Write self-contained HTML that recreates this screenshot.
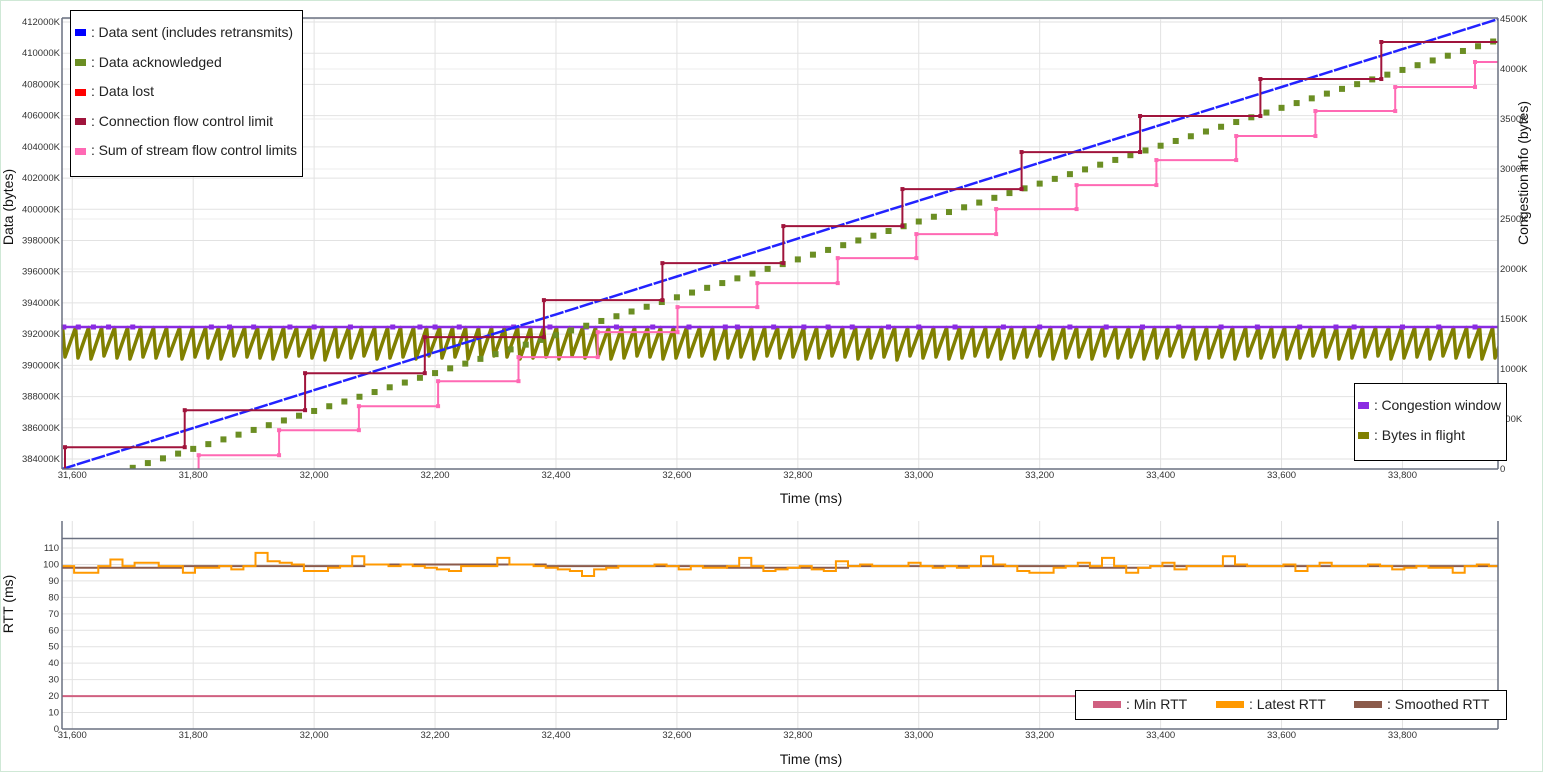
<!DOCTYPE html>
<html><head><meta charset="utf-8">
<style>
html,body{margin:0;padding:0;background:#fff;}
#wrap{width:1541px;height:770px;border:1px solid #cfe8d6;position:relative;overflow:hidden;}
svg text{font-family:"Liberation Sans",sans-serif;}
</style></head>
<body>
<div id="wrap">
<svg id="svg" width="1543" height="772" xmlns="http://www.w3.org/2000/svg" style="position:absolute;left:-1px;top:-1px">
<g id="grid"></g>
<g id="series"></g>
<g id="axes"></g>
<text x="811" y="503" font-size="14" text-anchor="middle" fill="#111">Time (ms)</text>
<text x="811" y="764" font-size="14" text-anchor="middle" fill="#111">Time (ms)</text>
<text transform="translate(13,207) rotate(-90)" font-size="14" text-anchor="middle" fill="#111">Data (bytes)</text>
<text transform="translate(1528,173) rotate(-90)" font-size="14" text-anchor="middle" fill="#111">Congestion info (bytes)</text>
<text transform="translate(13,604) rotate(-90)" font-size="14" text-anchor="middle" fill="#111">RTT (ms)</text>

<g>
<rect x="70.5" y="10.5" width="232" height="166" fill="#fff" stroke="#000"/>
<g><rect x="75" y="29" width="11" height="7" fill="#0000ff"/><text x="91" y="37" font-size="14" fill="#222" textLength="202">: Data sent (includes retransmits)</text></g>
<g><rect x="75" y="59" width="11" height="7" fill="#6b8e23"/><text x="91" y="67" font-size="14" fill="#222">: Data acknowledged</text></g>
<g><rect x="75" y="89" width="11" height="7" fill="#ff0000"/><text x="91" y="96" font-size="14" fill="#222">: Data lost</text></g>
<g><rect x="75" y="118" width="11" height="7" fill="#a0143c"/><text x="91" y="126" font-size="14" fill="#222">: Connection flow control limit</text></g>
<g><rect x="75" y="148" width="11" height="7" fill="#ff69b4"/><text x="91" y="155" font-size="14" fill="#222" textLength="206">: Sum of stream flow control limits</text></g>
</g>
<g>
<rect x="1354.5" y="383.5" width="152" height="77" fill="#fff" stroke="#000"/>
<g><rect x="1358" y="402" width="11" height="7" fill="#8a2be2"/><text x="1374" y="410" font-size="14" fill="#222" textLength="127">: Congestion window</text></g>
<g><rect x="1358" y="432" width="11" height="7" fill="#808000"/><text x="1374" y="440" font-size="14" fill="#222">: Bytes in flight</text></g>
</g>
<g>
<rect x="1075.5" y="690.5" width="431" height="29" fill="#fff" stroke="#000"/>
<g><rect x="1093" y="701" width="28" height="7" fill="#d06080"/><text x="1126" y="709" font-size="14" fill="#222">: Min RTT</text></g>
<g><rect x="1216" y="701" width="28" height="7" fill="#ff9900"/><text x="1249" y="709" font-size="14" fill="#222">: Latest RTT</text></g>
<g><rect x="1354" y="701" width="28" height="7" fill="#8b5a4a"/><text x="1387" y="709" font-size="14" fill="#222">: Smoothed RTT</text></g>
</g>
</svg>
</div>
<script>
// ---- data ----
const xTicks=[31600,31800,32000,32200,32400,32600,32800,33000,33200,33400,33600,33800];
const xTickLabels=["31,600","31,800","32,000","32,200","32,400","32,600","32,800","33,000","33,200","33,400","33,600","33,800"];
const leftTicks=[384000,386000,388000,390000,392000,394000,396000,398000,400000,402000,404000,406000,408000,410000,412000];
const rightTicks=[0,500,1000,1500,2000,2500,3000,3500,4000,4500];
const rttTicks=[0,10,20,30,40,50,60,70,80,90,100,110];
const sentTimes=[31583,31600,31700,31800,31900,32000,32100,32200,32300,32400,32500,32600,32700,32800,32900,33000,33100,33200,33300,33400,33500,33600,33700,33800,33900,34000];
const sentValues=[383350,383556,384770,385984,387198,388412,389626,390840,392054,393268,394482,395696,396910,398124,399338,400552,401766,402980,404194,405408,406622,407836,409050,410264,411478,412692];
const ackStart=31700, ackStep=25;
const ackValues=[383435,383739,384042,384346,384649,384953,385256,385560,385863,386167,386470,386774,387077,387381,387684,387988,388291,388595,388898,389202,389505,389809,390112,390416,390719,391023,391326,391630,391933,392237,392540,392844,393147,393451,393754,394058,394361,394665,394968,395272,395575,395879,396182,396486,396789,397093,397396,397700,398003,398307,398610,398914,399217,399521,399824,400128,400431,400735,401038,401342,401645,401949,402252,402556,402859,403163,403466,403770,404073,404377,404680,404984,405287,405591,405894,406198,406501,406805,407108,407412,407715,408019,408322,408626,408929,409233,409536,409840,410143,410447,410750];
const connTimes=[31588,31786,31985,32183,32380,32576,32776,32973,33170,33366,33565,33765];
const connValues=[384757,387128,389500,391808,394180,396550,398923,401295,403667,405975,408346,410718];
const streamTimes=[31809,31942,32074,32205,32338,32469,32601,32733,32866,32996,33128,33261,33393,33525,33656,33788,33920];
const streamValues=[384245,385847,387386,388988,390527,392129,393732,395270,396872,398411,400013,401552,403154,404693,406295,407833,409436];
const cwndTimes=[31586,31610,31635,31660,31700,31830,31860,31900,31960,32000,32060,32130,32175,32200,32240,32330,32390,32450,32500,32560,32620,32680,32700,32760,32810,32850,32890,32950,33000,33060,33140,33200,33250,33310,33370,33430,33500,33560,33630,33690,33720,33800,33860,33920];
const cwndValues=[1420,1420,1420,1420,1420,1420,1420,1420,1420,1420,1420,1420,1420,1420,1420,1420,1420,1420,1420,1420,1420,1420,1420,1420,1420,1420,1420,1420,1420,1420,1420,1420,1420,1420,1420,1420,1420,1420,1420,1420,1420,1420,1420,1420];
const bifStart=31584, bifStep=21.5;
const bifTroughValues=[1120,1110,1100,1130,1110,1100,1120,1110,1130,1100,1120,1110,1100,1130,1120,1110,1100,1120,1130,1110,1090,1120,1110,1130,1100,1110,1120,1100,1130,1110,1120,1100,1110,1130,1120,1100,1110,1120,1100,1130,1110,1120,1100,1110,1130,1120,1100,1110,1120,1130,1100,1110,1120,1100,1130,1110,1120,1100,1110,1130,1120,1100,1110,1120,1090,1130,1110,1120,1100,1110,1130,1120,1100,1110,1120,1130,1100,1110,1120,1100,1130,1110,1120,1100,1110,1130,1120,1100,1110,1120,1100,1130,1110,1120,1100,1110,1130,1120,1100,1110,1120,1130,1100,1110,1120,1100,1130,1110,1120,1100,1110];
const bifPeakValue=1415;
const rttStart=31583, rttStep=20;
const latestRtt=[99,95,95,99,103,99,101,101,99,99,95,98,98,99,97,99,107,102,101,100,96,96,98,99,105,100,100,99,100,99,98,97,96,99,99,99,104,100,100,99,98,97,96,93,97,98,99,99,99,100,99,97,99,98,98,99,104,99,96,97,98,99,97,96,102,99,100,99,99,99,101,99,98,99,98,99,105,100,99,96,95,95,98,99,101,99,104,99,95,98,99,101,97,99,99,99,105,100,99,99,99,100,96,99,101,99,99,99,100,99,97,98,99,98,98,95,99,100,99,98];
const smoothStart=31583, smoothStep=100;
const smoothRtt=[98,98,99,99,99,100,100,100,99,99,99,98,98,99,99,99,99,98,99,99,99,99,99,99,98];
const minRttValue=20;

// ---- scales ----
const X0=62,X1=1498,T0=31583,T1=33958;
const sx=t=>X0+(t-T0)*(X1-X0)/(T1-T0);
const yTopB=469,yTopT=18;
const syL=v=>459-(v-384000)*(437/28000);
const syR=v=>469-v*(450/4500);
const RB=729;
const syT=v=>RB-v*(181/110);
const NS="http://www.w3.org/2000/svg";
function mk(parent,tag,attrs){const e=document.createElementNS(NS,tag);for(const k in attrs)e.setAttribute(k,attrs[k]);document.getElementById(parent).appendChild(e);return e;}
function pts(ts,vs,f){return ts.map((t,i)=>sx(t).toFixed(1)+","+f(vs[i]).toFixed(1)).join(" ");}
function clip(id,y0,y1){const d=mk('series','clipPath',{id:id});const r=document.createElementNS(NS,'rect');r.setAttribute('x',X0);r.setAttribute('y',y0);r.setAttribute('width',X1-X0);r.setAttribute('height',y1-y0);d.appendChild(r);}
clip('cTop',yTopT,yTopB);clip('cBot',521,RB);

// grid
xTicks.forEach((t,i)=>{
 let l=mk('grid','line',{x1:sx(t),x2:sx(t),y1:yTopT,y2:yTopB,stroke:'#e2e2e2','stroke-width':1});
 
 l=mk('grid','line',{x1:sx(t),x2:sx(t),y1:521,y2:RB,stroke:'#e2e2e2','stroke-width':1});
 
});
leftTicks.forEach(v=>{const l=mk('grid','line',{x1:X0,x2:X1,y1:syL(v),y2:syL(v),stroke:'#e2e2e2'});
 });
rightTicks.forEach(v=>{const l=mk('grid','line',{x1:X0,x2:X1,y1:syR(v),y2:syR(v),stroke:'#ececec'});
 });
rttTicks.forEach(v=>{const l=mk('grid','line',{x1:X0,x2:X1,y1:syT(v),y2:syT(v),stroke:'#e2e2e2'});
 });

// bytes in flight sawtooth: sharp drop then ramp up
let bp=[];
bifTroughValues.forEach((v,i)=>{const t=bifStart+i*bifStep;
 bp.push(sx(t).toFixed(1)+","+syR(bifPeakValue).toFixed(1));
 bp.push(sx(t+4).toFixed(1)+","+syR(v).toFixed(1));});
bp.push(sx(bifStart+bifTroughValues.length*bifStep).toFixed(1)+","+syR(bifPeakValue).toFixed(1));
let e=mk('series','polyline',{points:bp.join(" "),fill:'none',stroke:'#808000','stroke-width':3.5,'stroke-linejoin':'round','clip-path':'url(#cTop)'});


// cwnd
e=mk('series','polyline',{points:pts([T0].concat(cwndTimes,[T1]),[1420].concat(cwndValues,[1420]),syR),fill:'none',stroke:'#8a2be2','stroke-width':2.5});


cwndTimes.forEach((t,i)=>{const c=mk('series','rect',{x:sx(t)-2.5,y:syR(cwndValues[i])-2.5,width:5,height:5,fill:'#8a2be2'});
 });

// stream limits step
function stepPts(ts,vs,f,base,endT){let p=[sx(ts[0]).toFixed(1)+","+base];ts.forEach((t,i)=>{if(i>0)p.push(sx(t).toFixed(1)+","+f(vs[i-1]).toFixed(1));p.push(sx(t).toFixed(1)+","+f(vs[i]).toFixed(1));});p.push(sx(endT).toFixed(1)+","+f(vs[vs.length-1]).toFixed(1));return p.join(" ");}
e=mk('series','polyline',{points:stepPts(streamTimes,streamValues,syL,yTopB,T1),fill:'none',stroke:'#ff69b4','stroke-width':2,'clip-path':'url(#cTop)'});


streamTimes.forEach((t,i)=>{[i>0?streamValues[i-1]:null,streamValues[i]].forEach(v=>{if(v===null)return;
 const c=mk('series','rect',{x:sx(t)-2,y:syL(v)-2,width:4,height:4,fill:'#ff69b4'});
 });});
// ack
ackValues.forEach((v,i)=>{const c=mk('series','rect',{x:sx(ackStart+i*ackStep)-3,y:syL(v)-3,width:6,height:6,fill:'#6b8e23','clip-path':'url(#cTop)'});
 });
// sent
e=mk('series','polyline',{points:pts(sentTimes,sentValues,syL),fill:'none',stroke:'#2222ff','stroke-width':2.5,'stroke-dasharray':'14 1.5','clip-path':'url(#cTop)'});


// connection limit
e=mk('series','polyline',{points:stepPts(connTimes,connValues,syL,yTopB,T1),fill:'none',stroke:'#a0143c','stroke-width':2,'clip-path':'url(#cTop)'});


connTimes.forEach((t,i)=>{[i>0?connValues[i-1]:null,connValues[i]].forEach(v=>{if(v===null)return;
 const c=mk('series','rect',{x:sx(t)-2,y:syL(v)-2,width:4,height:4,fill:'#a0143c'});
 });});

// RTT
e=mk('series','line',{x1:X0,x2:X1,y1:syT(minRttValue),y2:syT(minRttValue),stroke:'#d06080','stroke-width':2});


let st=smoothRtt.map((v,i)=>smoothStart+i*smoothStep);
e=mk('series','polyline',{points:stepPts(st,smoothRtt,syT,syT(smoothRtt[0]),T1),fill:'none',stroke:'#8b5a4a','stroke-width':2,'clip-path':'url(#cBot)'});


let lt=latestRtt.map((v,i)=>rttStart+i*rttStep);
e=mk('series','polyline',{points:stepPts(lt,latestRtt,syT,syT(latestRtt[0]),T1),fill:'none',stroke:'#ff9900','stroke-width':2,'clip-path':'url(#cBot)'});



// axes
[['line',{x1:X0,x2:X0,y1:yTopT,y2:yTopB}],['line',{x1:X0,x2:X1,y1:yTopB,y2:yTopB}],['line',{x1:X1,x2:X1,y1:yTopT,y2:yTopB}],['line',{x1:X0,x2:X1,y1:yTopT,y2:yTopT}],
 ['line',{x1:X0,x2:X0,y1:521,y2:RB}],['line',{x1:X0,x2:X1,y1:RB,y2:RB}],['line',{x1:X1,x2:X1,y1:521,y2:RB}],['line',{x1:X0,x2:X1,y1:538.5,y2:538.5}]].forEach(a=>{
 const l=mk('axes',a[0],Object.assign({stroke:'#6a7080','stroke-width':1.5},a[1]));
 });
function txt(x,y,s,anchor,name){const t=mk('axes','text',{x:x,y:y,'font-size':9.5,'text-anchor':anchor,fill:'#333'});t.textContent=s;
 }
xTicks.forEach((t,i)=>{txt(sx(t),478,xTickLabels[i],'middle','x-tick-label-top');txt(sx(t),738,xTickLabels[i],'middle','x-tick-label-bottom');});
leftTicks.forEach(v=>txt(60,syL(v)+3,v+"K",'end','y-tick-label-left'));
rightTicks.forEach(v=>txt(1500,syR(v)+3,v===0?"0":v+"K",'start','y-tick-label-right'));
rttTicks.forEach(v=>txt(59,syT(v)+3,String(v),'end','y-tick-label-rtt'));
</script>
</body></html>
